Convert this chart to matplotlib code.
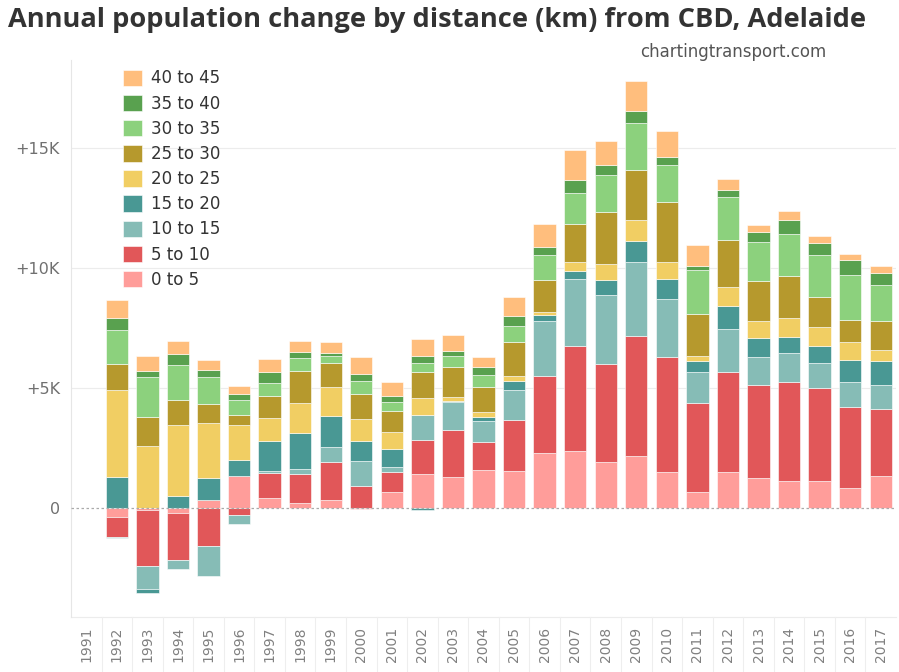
import matplotlib
matplotlib.use("Agg")
import matplotlib.pyplot as plt
import matplotlib.transforms as mtransforms
import numpy as np

years = [str(y) for y in range(1991, 2018)]
bands = ["0 to 5", "5 to 10", "10 to 15", "15 to 20", "20 to 25",
         "25 to 30", "30 to 35", "35 to 40", "40 to 45"]
colors = ["#FF9D9A", "#E15759", "#86BCB6", "#499894", "#F1CE63",
          "#B6992D", "#8CD17D", "#59A14F", "#FFBE7D"]

d0_5 = [0, -361, -100, -208, 347, 1347, 403, 194, 347, -60, 667, 1403, 1292, 1597, 1556, 2278, 2375, 1917, 2167, 1500, 667, 1486, 1236, 1139, 1139, 819, 1347]
d5_10 = [0, -833, -2333, -1944, -1583, -278, 1042, 1208, 1569, 931, 833, 1444, 1972, 1153, 2125, 3236, 4389, 4069, 5014, 4792, 3694, 4181, 3903, 4111, 3847, 3389, 2764]
d10_15 = [0, -50, -958, -403, -1236, -403, 111, 208, 611, 1042, 208, 1042, 1139, 889, 1250, 2278, 2792, 2903, 3069, 2431, 1306, 1806, 1153, 1194, 1042, 1042, 1028]
d15_20 = [0, 1280, -139, 514, 889, 667, 1236, 1500, 1306, 819, 736, -100, 69, 139, 347, 264, 319, 625, 875, 833, 444, 944, 778, 681, 736, 931, 986]
d20_25 = [0, 3653, 2597, 2958, 2292, 1458, 944, 1250, 1194, 903, 722, 681, 167, 208, 236, 111, 375, 639, 889, 694, 222, 792, 736, 778, 778, 722, 472]
d25_30 = [0, 1083, 1181, 1042, 819, 417, 931, 1361, 1000, 1069, 889, 1083, 1236, 1056, 1389, 1347, 1597, 2167, 2083, 2486, 1764, 1972, 1667, 1778, 1236, 944, 1208]
d30_35 = [0, 1417, 1667, 1458, 1097, 625, 528, 514, 319, 542, 361, 375, 458, 514, 681, 1042, 1264, 1569, 1931, 1569, 1833, 1764, 1597, 1722, 1778, 1875, 1500]
d35_40 = [0, 500, 264, 458, 319, 250, 472, 250, 97, 264, 250, 306, 222, 306, 403, 306, 569, 403, 500, 306, 139, 306, 417, 611, 472, 625, 472]
d40_45 = [0, 736, 611, 528, 403, 319, 556, 486, 472, 722, 583, 722, 653, 431, 806, 986, 1250, 1000, 1264, 1083, 903, 472, 319, 361, 306, 250, 306]

series = [d0_5, d5_10, d10_15, d15_20, d20_25, d25_30, d30_35, d35_40, d40_45]

ytick_vals = [0, 5000, 10000, 15000]
ytick_labels = ["0", "+5K", "+10K", "+15K"]

W, H = 899, 672
fig = plt.figure(figsize=(W / 100, H / 100), dpi=100)
ax = fig.add_axes([71 / W, 1 - 617 / H, (896 - 71) / W, (617 - 60) / H])

x = np.arange(len(years))
pos_bottom = np.zeros(len(years))
neg_bottom = np.zeros(len(years))
handles = []
for vals, col, lab in zip(series, colors, bands):
    v = np.array(vals, dtype=float)
    bottoms = np.where(v >= 0, pos_bottom, neg_bottom)
    h = ax.bar(x, v, bottom=bottoms, width=0.73, color=col, label=lab,
               edgecolor="white", linewidth=0.4, zorder=3)
    handles.append(h)
    pos_bottom += np.where(v > 0, v, 0)
    neg_bottom += np.where(v < 0, v, 0)

ax.set_xlim(-0.5, len(years) - 0.5)
ax.set_ylim(-4542, 18667)

for s in ["top", "right", "bottom"]:
    ax.spines[s].set_visible(False)
ax.spines["left"].set_color("#e6e6e6")
ax.spines["left"].set_linewidth(0.8)

ax.set_yticks(ytick_vals)
ax.set_yticklabels(ytick_labels, fontsize=11.5, color="#707070")
ax.tick_params(axis="y", length=0, pad=8)
for v in ytick_vals[1:]:
    ax.axhline(v, color="#ececec", linewidth=0.8, zorder=0)
ax.axhline(0, color="#aaaaaa", linewidth=0.9, linestyle=(0, (2, 2)), zorder=4)
ax.axhline(-4542, color="#ececec", linewidth=0.8, zorder=0, clip_on=False)

ax.set_xticks(x)
ax.set_xticklabels(years, rotation=90, fontsize=10, color="#808080")
ax.tick_params(axis="x", length=0, pad=7)

# faint separators between x labels
trans = mtransforms.blended_transform_factory(ax.transData, ax.transAxes)
for b in np.arange(len(years) - 1) + 0.5:
    ax.plot([b, b], [0, -0.1], color="#eeeeee", linewidth=0.8,
            transform=trans, clip_on=False, zorder=0)

leg = ax.legend(handles[::-1], bands[::-1], loc="upper left",
                bbox_to_anchor=(0.055, 0.995), frameon=False, fontsize=12,
                handlelength=1.15, handleheight=1.15, labelspacing=0.43,
                handletextpad=0.55, borderaxespad=0)
for t in leg.get_texts():
    t.set_color("#333333")

fig.text(8 / W, 1 - 20 / H, "Annual population change by distance (km) from CBD, Adelaide",
         fontsize=19.6, fontweight="bold", color="#333333", va="center", ha="left",
         family="Open Sans")
fig.text(826 / W, 1 - 52 / H, "chartingtransport.com", fontsize=12,
         color="#555555", va="center", ha="right")

fig.savefig("out.png", dpi=100)
